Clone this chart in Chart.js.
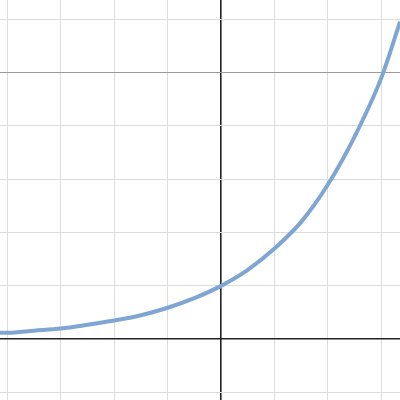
<!DOCTYPE html>
<html><head><meta charset="utf-8">
<script src="https://cdn.jsdelivr.net/npm/chart.js@4"></script>
<style>html,body{margin:0;padding:0;background:#fff}</style>
</head><body>
<canvas id="c" width="400" height="400"></canvas>
<script>
const xValues = [-4.14, -4, -3.5, -3, -2.5, -2, -1.5, -1, -0.5, 0, 0.5, 1, 1.5, 2, 2.5, 3, 3.35];
const yValues = [0.12, 0.12, 0.16, 0.2, 0.27, 0.35, 0.45, 0.59, 0.77, 1, 1.3, 1.7, 2.2, 2.9, 3.8, 4.9, 5.95];
const xRange = [-4.14, 3.35];
const yRange = [-1.14, 6.36];
const pts = xValues.map((x, i) => ({x, y: yValues[i]}));
const gridColor = ctx => {
  const v = ctx.tick && ctx.tick.value;
  if (v === 0) return '#222';
  if (v === 5 && ctx.scale.axis === 'y') return '#9a9a9a';
  return '#dcdcdc';
};
const gridWidth = ctx => (ctx.tick && ctx.tick.value === 0) ? 1.6 : 1;
new Chart(document.getElementById('c'), {
  type: 'scatter',
  data: {datasets: [{data: pts, showLine: true, borderColor: '#7fa6d3', borderWidth: 4,
    pointRadius: 0, cubicInterpolationMode: 'monotone', fill: false}]},
  options: {
    responsive: false, animation: false,
    layout: {padding: 0},
    plugins: {legend: {display: false}, tooltip: {enabled: false}},
    scales: {
      x: {type: 'linear', min: xRange[0], max: xRange[1],
        ticks: {display: false, stepSize: 1},
        afterBuildTicks: s => { s.ticks = []; for (let v = -4; v <= 3; v++) s.ticks.push({value: v}); },
        grid: {color: gridColor, lineWidth: gridWidth, drawTicks: false}, border: {display: false}},
      y: {type: 'linear', min: yRange[0], max: yRange[1],
        ticks: {display: false, stepSize: 1},
        afterBuildTicks: s => { s.ticks = []; for (let v = -1; v <= 6; v++) s.ticks.push({value: v}); },
        grid: {color: gridColor, lineWidth: gridWidth, drawTicks: false}, border: {display: false}}
    }
  }
});
</script>
</body></html>
